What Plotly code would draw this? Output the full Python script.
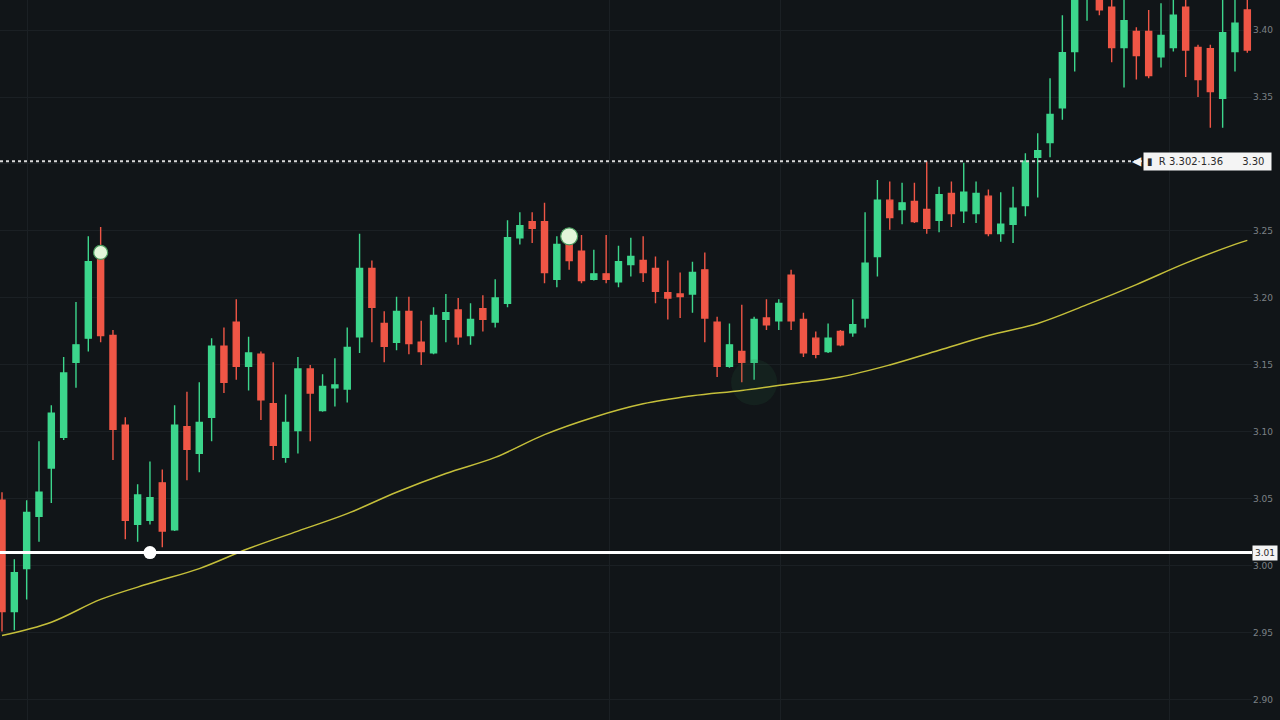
import plotly.graph_objects as go

# ---- data ----
opens = [3.049, 2.966, 2.998, 3.037, 3.073, 3.096, 3.152, 3.170, 3.234, 3.172,
         3.105, 3.031, 3.034, 3.062, 3.027, 3.104, 3.084, 3.111, 3.164, 3.182,
         3.149, 3.158, 3.121, 3.081, 3.101, 3.147, 3.116, 3.133, 3.132, 3.171,
         3.222, 3.181, 3.167, 3.190, 3.167, 3.159, 3.184, 3.191, 3.172, 3.192,
         3.182, 3.196, 3.245, 3.257, 3.257, 3.214, 3.243, 3.235, 3.214, 3.218,
         3.212, 3.225, 3.228, 3.222, 3.204, 3.203, 3.203, 3.221, 3.182, 3.149,
         3.160, 3.152, 3.185, 3.183, 3.217, 3.184, 3.170, 3.160, 3.175, 3.174,
         3.185, 3.231, 3.273, 3.266, 3.272, 3.266, 3.258, 3.278, 3.265, 3.263,
         3.276, 3.248, 3.255, 3.269, 3.305, 3.316, 3.342, 3.384, 3.440, 3.430,
         3.417, 3.387, 3.399, 3.399, 3.380, 3.387, 3.417, 3.387, 3.386, 3.349,
         3.384, 3.415]
highs = [3.055, 3.005, 3.049, 3.093, 3.120, 3.156, 3.197, 3.246, 3.253, 3.176,
         3.111, 3.061, 3.078, 3.072, 3.120, 3.130, 3.137, 3.170, 3.178, 3.199,
         3.171, 3.160, 3.152, 3.128, 3.156, 3.150, 3.143, 3.155, 3.178, 3.248,
         3.228, 3.190, 3.201, 3.201, 3.183, 3.193, 3.203, 3.200, 3.196, 3.202,
         3.214, 3.258, 3.264, 3.264, 3.271, 3.246, 3.248, 3.247, 3.236, 3.247,
         3.239, 3.245, 3.246, 3.231, 3.228, 3.219, 3.227, 3.234, 3.186, 3.181,
         3.195, 3.186, 3.199, 3.199, 3.221, 3.189, 3.175, 3.181, 3.176, 3.199,
         3.264, 3.288, 3.287, 3.286, 3.286, 3.302, 3.283, 3.287, 3.301, 3.287,
         3.281, 3.279, 3.283, 3.308, 3.323, 3.364, 3.411, 3.440, 3.470, 3.435,
         3.424, 3.425, 3.402, 3.415, 3.420, 3.425, 3.425, 3.389, 3.389, 3.425,
         3.425, 3.425]
lows = [2.951, 2.952, 2.975, 3.018, 3.047, 3.094, 3.133, 3.160, 3.167, 3.079,
        3.020, 3.018, 3.031, 3.014, 3.026, 3.064, 3.070, 3.093, 3.129, 3.139,
        3.131, 3.109, 3.079, 3.077, 3.084, 3.093, 3.115, 3.119, 3.122, 3.159,
        3.167, 3.152, 3.161, 3.158, 3.150, 3.158, 3.167, 3.165, 3.165, 3.175,
        3.178, 3.193, 3.240, 3.241, 3.211, 3.208, 3.221, 3.211, 3.213, 3.211,
        3.208, 3.216, 3.212, 3.196, 3.184, 3.185, 3.189, 3.167, 3.141, 3.148,
        3.137, 3.139, 3.176, 3.176, 3.176, 3.156, 3.155, 3.159, 3.164, 3.171,
        3.178, 3.216, 3.251, 3.255, 3.256, 3.248, 3.249, 3.253, 3.256, 3.256,
        3.246, 3.242, 3.241, 3.261, 3.275, 3.305, 3.333, 3.369, 3.407, 3.411,
        3.376, 3.357, 3.363, 3.364, 3.372, 3.384, 3.365, 3.350, 3.327, 3.327,
        3.369, 3.383]
closes = [2.966, 2.995, 3.040, 3.055, 3.114, 3.144, 3.165, 3.227, 3.172, 3.102,
          3.034, 3.053, 3.051, 3.026, 3.105, 3.087, 3.107, 3.164, 3.137, 3.149,
          3.159, 3.124, 3.090, 3.107, 3.147, 3.129, 3.134, 3.135, 3.163, 3.222,
          3.193, 3.164, 3.190, 3.166, 3.160, 3.187, 3.189, 3.171, 3.184, 3.184,
          3.200, 3.245, 3.254, 3.252, 3.219, 3.240, 3.228, 3.213, 3.218, 3.214,
          3.227, 3.231, 3.219, 3.205, 3.200, 3.201, 3.219, 3.185, 3.149, 3.165,
          3.152, 3.184, 3.180, 3.196, 3.183, 3.159, 3.158, 3.170, 3.165, 3.180,
          3.226, 3.273, 3.260, 3.271, 3.257, 3.252, 3.277, 3.263, 3.279, 3.278,
          3.248, 3.255, 3.267, 3.302, 3.310, 3.337, 3.383, 3.430, 3.455, 3.415,
          3.387, 3.407, 3.381, 3.366, 3.396, 3.411, 3.385, 3.363, 3.354, 3.398,
          3.405, 3.385]
bars = list(range(len(opens)))

ma_x = [0, 4, 8, 12, 16, 20, 24, 28, 32, 36, 40, 44, 48, 52, 56, 60, 64, 68,
        72, 76, 80, 84, 88, 92, 96, 100, 101]
ma_y = [2.948, 2.958, 2.975, 2.987, 2.998, 3.013, 3.026, 3.039, 3.055, 3.069,
        3.081, 3.098, 3.111, 3.121, 3.127, 3.131, 3.136, 3.141, 3.150, 3.161,
        3.172, 3.181, 3.195, 3.210, 3.226, 3.240, 3.243]

resistance_level = 3.302
support_level = 3.010
peak_marks_x = [8, 46]
peak_marks_y = [3.234, 3.246]
support_touch_x = [12]
support_touch_y = [3.010]
glow_x = [61]
glow_y = [3.137]

ytick_vals = [2.90, 2.95, 3.00, 3.05, 3.10, 3.15, 3.20, 3.25, 3.30, 3.35, 3.40]
ytick_text = ["2.90", "2.95", "3.00", "3.05", "3.10", "3.15", "3.20", "3.25",
              "", "3.35", "3.40"]
xgrid_vals = [2.1, 49.3, 63.1, 94.7]

resistance_label = "▮  R 3.302·1.36      3.30 "
support_label = "3.01"

# ---- styling ----
BG = "#111518"
GRID = "#1b2024"
GREEN = "#3cd68c"
RED = "#ef5646"

fig = go.Figure()

fig.add_trace(go.Scatter(
    x=glow_x, y=glow_y, mode="markers",
    marker=dict(size=46, color="rgba(40,110,65,0.15)", line=dict(width=0)),
    hoverinfo="skip", showlegend=False))

fig.add_trace(go.Scatter(
    x=ma_x, y=ma_y, mode="lines",
    line=dict(color="#c5bf3a", width=1.5, shape="spline", smoothing=1.0),
    hoverinfo="skip", showlegend=False))

fig.add_trace(go.Candlestick(
    x=bars, open=opens, high=highs, low=lows, close=closes,
    increasing=dict(line=dict(color=GREEN, width=1.4), fillcolor=GREEN),
    decreasing=dict(line=dict(color=RED, width=1.4), fillcolor=RED),
    whiskerwidth=0, hoverinfo="skip", showlegend=False))

fig.add_trace(go.Scatter(
    x=peak_marks_x, y=peak_marks_y, mode="markers",
    marker=dict(size=[14, 17], color="#e3f6da", opacity=1,
                line=dict(color="#4a9a5e", width=1.2)),
    hoverinfo="skip", showlegend=False))

fig.add_shape(type="line", xref="paper", x0=0, x1=0.912, yref="y",
              y0=resistance_level, y1=resistance_level,
              line=dict(color="#d8d8d8", width=2, dash="dot"), layer="above")
fig.add_shape(type="line", xref="paper", x0=0, x1=1.0, yref="y",
              y0=support_level, y1=support_level,
              line=dict(color="#ffffff", width=3), layer="above")

fig.add_trace(go.Scatter(
    x=support_touch_x, y=support_touch_y, mode="markers",
    marker=dict(size=13, color="#ffffff", line=dict(width=0)),
    hoverinfo="skip", showlegend=False))

fig.add_annotation(xref="paper", x=0.913, xanchor="left", yref="y",
                   y=resistance_level, text=resistance_label, showarrow=False,
                   bgcolor="#f4f4f4", font=dict(color="#2a2a2a", size=10,
                   family="DejaVu Sans"), borderpad=3)
fig.add_annotation(xref="paper", x=0.914, xanchor="right", yref="y",
                   y=resistance_level, text="◀", showarrow=False,
                   font=dict(color="#f4f4f4", size=12))
fig.add_annotation(xref="paper", x=1.0, xanchor="left", yref="y",
                   y=support_level, text=support_label, showarrow=False,
                   bgcolor="#f4f4f4", font=dict(color="#2a2a2a", size=9),
                   borderpad=2)

fig.update_layout(
    width=1280, height=720,
    margin=dict(l=0, r=28, t=0, b=0),
    paper_bgcolor=BG, plot_bgcolor=BG,
    boxgap=0.3,
    showlegend=False,
    hovermode=False,
    xaxis=dict(range=[-0.162, 101.38], rangeslider=dict(visible=False),
               showticklabels=False, tickvals=xgrid_vals, ticks="",
               showgrid=True, gridcolor=GRID, gridwidth=1, zeroline=False,
               showline=False),
    yaxis=dict(range=[2.885, 3.4224], side="right", tickvals=ytick_vals,
               ticktext=ytick_text, showgrid=True, gridcolor=GRID, gridwidth=1,
               zeroline=False, showline=False, ticks="",
               tickfont=dict(color="#7c8186", size=9, family="DejaVu Sans")),
    font=dict(family="DejaVu Sans"),
)

fig.write_html(
    "out.html",
    config={"displayModeBar": False},
    post_script="document.body.style.margin='0';document.body.style.background='#111518';",
)
